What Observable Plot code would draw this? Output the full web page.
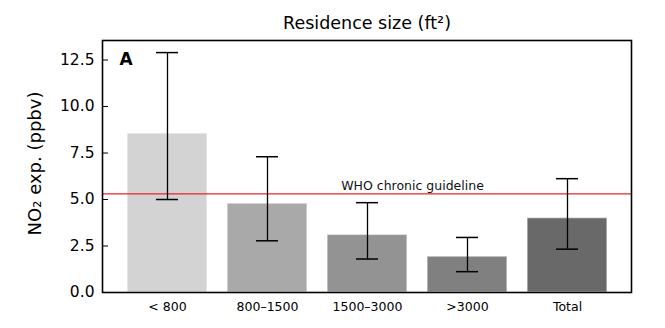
<!DOCTYPE html>
<html>
<head>
<meta charset="utf-8">
<script src="https://cdn.jsdelivr.net/npm/d3@7"></script>
<script src="https://cdn.jsdelivr.net/npm/@observablehq/plot@0.6"></script>
<style>
  html, body { margin: 0; padding: 0; background: #fff; }
  #chart svg { display: block; }
</style>
</head>
<body>
<div id="chart"></div>
<script>
// Residence size categories and NO2 exposure (ppbv)
const categories = ["< 800", "800–1500", "1500–3000", ">3000", "Total"];
const means = [8.55, 4.78, 3.10, 1.93, 4.00];
const lower = [5.0, 2.78, 1.80, 1.12, 2.33];
const upper = [12.9, 7.30, 4.83, 2.96, 6.12];
const barColors = ["#d3d3d3", "#a9a9a9", "#939393", "#808080", "#696969"];
const whoGuideline = 5.3;
const yTicks = [0, 2.5, 5, 7.5, 10, 12.5];

const rows = categories.map((c, i) => ({
  category: c, mean: means[i], lo: lower[i], hi: upper[i], color: barColors[i]
}));

const font = "DejaVu Sans, sans-serif";

const chart = Plot.plot({
  width: 665,
  height: 328,
  marginLeft: 102,
  marginRight: 34,
  marginTop: 40,
  marginBottom: 36,
  style: { fontFamily: font, background: "white", color: "black" },
  x: { domain: categories, paddingInner: 0.2, paddingOuter: 0.24, label: null },
  y: { domain: [0, 13.55], label: null },
  marks: [
    Plot.barY(rows, {
      x: "category", y: "mean", fill: "color",
      stroke: "white", strokeOpacity: 0.55, strokeWidth: 1.5
    }),
    Plot.ruleY([whoGuideline], { stroke: "#e8262e", strokeWidth: 1.3 }),
    Plot.text([whoGuideline], {
      y: d => d, x: () => "1500–3000", dx: 45, dy: -4,
      text: () => "WHO chronic guideline", lineAnchor: "bottom",
      fontSize: 12.5, fill: "#111"
    }),
    Plot.ruleX(rows, { x: "category", y1: "lo", y2: "hi", stroke: "black", strokeWidth: 1.3 }),
    Plot.tickY(rows, { x: "category", y: "hi", stroke: "black", strokeWidth: 1.5, insetLeft: 29, insetRight: 29 }),
    Plot.tickY(rows, { x: "category", y: "lo", stroke: "black", strokeWidth: 1.5, insetLeft: 29, insetRight: 29 }),
    Plot.axisX({ tickSize: 0, tickPadding: 10, fontSize: 12.5, label: null }),
    Plot.axisY({
      ticks: yTicks, tickFormat: d => d.toFixed(1), tickSize: -6, tickPadding: 14,
      fontSize: 15.5, label: null
    }),
    Plot.frame({ stroke: "black", strokeWidth: 1.6 }),
    Plot.text(["A"], { frameAnchor: "top-left", dx: 17, dy: 12, fontSize: 17, fontWeight: "bold" }),
    Plot.text(["Residence size (ft²)"], {
      frameAnchor: "top", dy: -24, fontSize: 17.5
    }),
    Plot.text(["NO₂ exp. (ppbv)"], {
      frameAnchor: "left", textAnchor: "middle", dx: -67, dy: -3, rotate: -90, fontSize: 18
    })
  ]
});

document.getElementById("chart").appendChild(chart);
</script>
</body>
</html>
